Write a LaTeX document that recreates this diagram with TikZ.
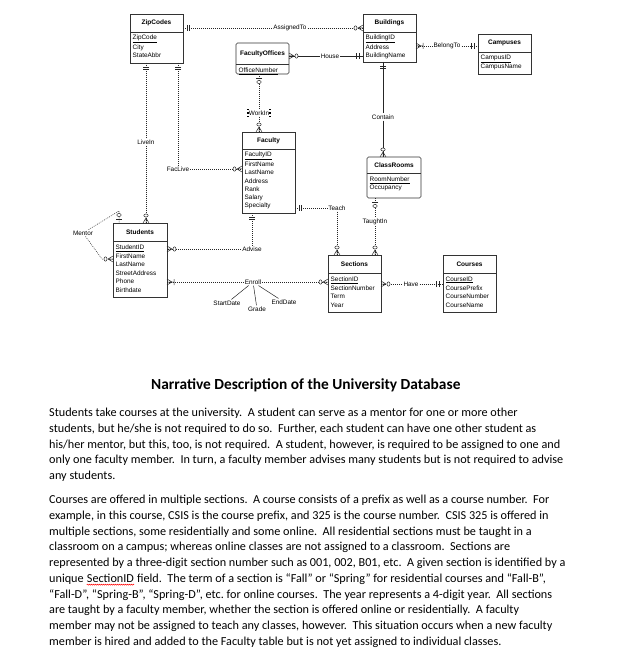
\documentclass[tikz,border=0pt]{standalone}
\usepackage{fontspec}
\setmainfont{Carlito}
\newfontfamily\dgm{Liberation Sans}
\usetikzlibrary{decorations.pathmorphing}
\frenchspacing
\tikzset{
  ent/.style={draw=black!80, line width=0.6pt, inner sep=0pt, outer sep=0pt},
  entl/.style={draw=black!80, line width=0.6pt},
  attr/.style={anchor=west, inner sep=0pt, font=\dgm\fontsize{6.4}{7}\selectfont},
  hdr/.style={inner sep=0pt, font=\dgm\bfseries\fontsize{6.5}{7}\selectfont},
  rl/.style={fill=white, inner sep=1pt, font=\dgm\fontsize{6.4}{7}\selectfont},
  rel/.style={line width=0.5pt, dash pattern=on 0.9pt off 1.1pt, draw=black!85},
  sol/.style={line width=0.5pt, draw=black!85},
  mk/.style={line width=0.5pt, draw=black!85, solid},
  para/.style={anchor=base west, inner sep=0pt, font=\fontsize{12.2}{14}\selectfont},
  wavy/.style={draw=red, line width=0.45pt, decorate, decoration={snake, amplitude=0.55pt, segment length=2pt}},
  one/.pic={\draw[mk] (4,-3)--(4,3) (6.5,-3)--(6.5,3);},
  zmany/.pic={\draw[mk] (0,-3)--(5,0)--(0,3) (0,0)--(5,0);
              \draw[mk,fill=white] (7.5,0) ellipse[x radius=1.5pt,y radius=2.2pt];},
  omany/.pic={\draw[mk] (0,-3)--(5,0)--(0,3) (0,0)--(7,0) (7,-3)--(7,3);},
  zone/.pic={\draw[mk] (4,-3)--(4,3);
             \draw[mk,fill=white] (8,0) ellipse[x radius=1.5pt,y radius=2.2pt];},
  seldot/.style={fill=black, inner sep=0pt, minimum size=1.6pt},
}
% #1 name, #2 left, #3 top, #4 right, #5 bottom, #6 divider, #7 title, #8 attributes, #9 extra box style
\newcommand\ent[9]{%
  \node[ent, #9, minimum width={(#4-#2)*1pt}, minimum height={(#5-#3)*1pt}] (#1) at ({(#2+#4)/2},{(#3+#5)/2}) {};
  \draw[entl] (#2,#6) -- (#4,#6);
  \node[hdr] (#1-h) at ({(#2+#4)/2},{(#3+#6)/2}) {#7};
  \foreach \a [count=\i] in {#8} {\node[attr] (#1-\i) at ({#2+2.5},{#6+7+(\i-1)*8.35}) {\a};}
}
\begin{document}
\begin{tikzpicture}[x=1pt,y=-1pt]
\path[use as bounding box, fill=white] (0,0) rectangle (616,663);

% entities
\ent{zip}{130}{14}{183}{63}{32}{ZipCodes}{\underline{ZipCode},City,StateAbbr}{}
\ent{fo}{236}{43}{289}{74}{64}{FacultyOffices}{\underline{OfficeNumber}}{rounded corners=1.5pt}
\ent{bld}{363}{14}{416}{62}{32}{Buildings}{\underline{BuildingID},Address,BuildingName}{}
\ent{cmp}{478}{34}{531}{74}{52}{Campuses}{\underline{CampusID},CampusName}{}
\ent{fac}{242}{132}{295}{213}{149}{Faculty}{\underline{FacultyID},FirstName,LastName,Address,Rank,Salary,Specialty}{}
\ent{cr}{367}{157}{421}{198}{173}{ClassRooms}{\underline{RoomNumber},Occupancy}{rounded corners=1.5pt}
\ent{stu}{113}{223}{167}{297}{241}{Students}{\underline{StudentID},FirstName,LastName,StreetAddress,Phone,Birthdate}{}
\ent{sec}{328}{255}{381}{312}{273}{Sections}{\underline{SectionID},SectionNumber,Term,Year}{}
\ent{crs}{443}{255}{496}{312}{273}{Courses}{\underline{CourseID},CoursePrefix,CourseNumber,CourseName}{}

% AssignedTo
\node[rl] (lAs) at (290,28) {AssignedTo};
\draw[rel] (zip.east |- lAs) -- (lAs) -- (bld.west |- lAs);
\pic at (zip.east |- lAs) {one};
\pic[rotate=180] at (bld.west |- lAs) {zmany};

% House
\node[rl] (lHo) at (330,56) {House};
\draw[sol] (fo.east |- lHo) -- (lHo) -- (bld.west |- lHo);
\pic at (fo.east |- lHo) {zmany};
\pic[rotate=180] at (bld.west |- lHo) {one};

% BelongTo
\node[rl] (lBe) at (447,46) {BelongTo};
\draw[rel] (bld.east |- lBe) -- (lBe) -- (cmp.west |- lBe);
\pic at (bld.east |- lBe) {omany};
\pic[rotate=180] at (cmp.west |- lBe) {one};

% Contain
\node[rl] (lCo) at (383,117) {Contain};
\draw[sol] (bld.south -| lCo) -- (lCo) -- (cr.north -| lCo);
\pic[rotate=-90] at (bld.south -| lCo) {one};
\pic[rotate=90] at (cr.north -| lCo) {zmany};

% WorkIn
\node[rl] (lWo) at (259,113) {WorkIn};
\draw[rel] (fo.south -| lWo) -- (lWo) -- (fac.north -| lWo);
\pic[rotate=-90] at (fo.south -| lWo) {zone};
\pic[rotate=90] at (fac.north -| lWo) {zmany};
\foreach \p in {north west,north east,south west,south east,west,east}
  \node[seldot] at (lWo.\p) {};

% LiveIn
\node[rl] (lLi) at (146,142) {LiveIn};
\draw[rel] (zip.south -| lLi) -- (lLi) -- (stu.north -| lLi);
\pic[rotate=-90] at (zip.south -| lLi) {one};
\pic[rotate=90] at (stu.north -| lLi) {zmany};

% FacLive
\node[rl] (lFa) at (178,169) {FacLive};
\draw[rel] (zip.south -| lFa) -- (lFa) -- (fac.west |- lFa);
\pic[rotate=-90] at (zip.south -| lFa) {one};
\pic[rotate=180] at (fac.west |- lFa) {zmany};

% Mentor
\node[rl] (lMe) at (83,233) {Mentor};
\coordinate (m1) at (119,211);
\coordinate (m2) at (102,259);
\draw[rel] (lMe) -- (m1) -- (stu.north -| m1);
\draw[rel] (lMe) -- (m2) -- (stu.west |- m2);
\pic[rotate=90] at (stu.north -| m1) {zone};
\pic[rotate=180] at (stu.west |- m2) {zmany};

% Advise
\node[rl] (lAd) at (252,249) {Advise};
\draw[rel] (fac.south -| lAd) -- (lAd) -- (stu.east |- lAd);
\pic[rotate=-90] at (fac.south -| lAd) {one};
\pic at (stu.east |- lAd) {zmany};

% Enroll
\node[rl] (lEn) at (253,282) {Enroll};
\draw[rel] (stu.east |- lEn) -- (lEn) -- (sec.west |- lEn);
\pic at (stu.east |- lEn) {omany};
\pic[rotate=180] at (sec.west |- lEn) {zmany};
\node[rl] (sd) at (227,303) {StartDate};
\node[rl] (gr) at (257,309) {Grade};
\node[rl] (ed) at (284,302) {EndDate};
\draw[sol] (lEn) -- (sd);
\draw[sol] (lEn) -- (gr);
\draw[sol] (lEn) -- (ed);

% Teach
\node[rl] (lTe) at (337,208) {Teach};
\draw[rel] (fac.east |- lTe) -- (lTe) -- (sec.north -| lTe);
\pic at (fac.east |- lTe) {one};
\pic[rotate=90] at (sec.north -| lTe) {zmany};

% TaughtIn
\node[rl] (lTa) at (375,222) {TaughtIn};
\draw[rel] (cr.south -| lTa) -- (lTa) -- (sec.north -| lTa);
\pic[rotate=-90] at (cr.south -| lTa) {zone};
\pic[rotate=90] at (sec.north -| lTa) {zmany};

% Have
\node[rl] (lHa) at (411,284) {Have};
\draw[rel] (sec.east |- lHa) -- (lHa) -- (crs.west |- lHa);
\pic at (sec.east |- lHa) {zmany};
\pic[rotate=180] at (crs.west |- lHa) {one};

% narrative
\node[anchor=base west, inner sep=0pt, font=\bfseries\fontsize{15.4}{17}\selectfont] (title) at (151,389) {Narrative Description of the University Database};

\node[para] (p1) at (49,416.5) {Students take courses at the university.~ A student can serve as a mentor for one or more other};
\node[para] (p2) at (49,432.25) {students, but he/she is not required to do so.~ Further, each student can have one other student as};
\node[para] (p3) at (49,448) {his/her mentor, but this, too, is not required.~ A student, however, is required to be assigned to one and};
\node[para] (p4) at (49,463.75) {only one faculty member.~ In turn, a faculty member advises many students but is not required to advise};
\node[para] (p5) at (49,479.5) {any students.};

\node[para] (q1) at (49,503.5) {Courses are offered in multiple sections.~ A course consists of a prefix as well as a course number.~ For};
\node[para] (q2) at (49,519.25) {example, in this course, CSIS is the course prefix, and 325 is the course number.~ CSIS 325 is offered in};
\node[para] (q3) at (49,535) {multiple sections, some residentially and some online.~ All residential sections must be taught in a};
\node[para] (q4) at (49,550.75) {classroom on a campus; whereas online classes are not assigned to a classroom.~ Sections are};
\node[para] (q5) at (49,566.5) {represented by a three-digit section number such as 001, 002, B01, etc.~ A given section is identified by a};
\node[para] (q6a) at (49,582.25) {unique};
\node[para] (sid) at ([xshift=2.8pt]q6a.base east) {SectionID};
\node[para] (q6b) at ([xshift=2.8pt]sid.base east) {field.~ The term of a section is “Fall” or “Spring” for residential courses and “Fall-B”,};
\draw[wavy] ([yshift=-2.4pt]sid.base west) -- ([yshift=-2.4pt]sid.base east);
\node[para] (q7) at (49,598) {“Fall-D”, “Spring-B”, “Spring-D”, etc. for online courses.~ The year represents a 4-digit year.~ All sections};
\node[para] (q8) at (49,613.75) {are taught by a faculty member, whether the section is offered online or residentially.~ A faculty};
\node[para] (q9) at (49,629.5) {member may not be assigned to teach any classes, however.~ This situation occurs when a new faculty};
\node[para] (q10) at (49,645.25) {member is hired and added to the Faculty table but is not yet assigned to individual classes.};
\end{tikzpicture}
\end{document}
